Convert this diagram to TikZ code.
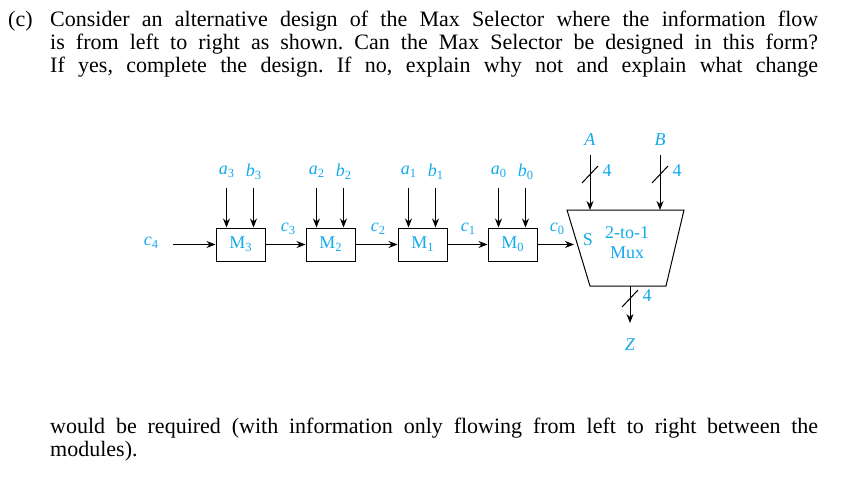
\documentclass[tikz,border=0pt]{standalone}
\usepackage{fontspec}
\setmainfont{Liberation Serif}
\usetikzlibrary{arrows.meta}
\definecolor{lbl}{RGB}{20,170,235}
\newcommand{\vsub}[2]{\textit{#1}\raisebox{-0.35ex}{\fontsize{12.5}{13}\selectfont #2}}
\newcommand{\msub}[2]{#1\raisebox{-0.35ex}{\fontsize{12.5}{13}\selectfont #2}}
\begin{document}
\frenchspacing
\begin{tikzpicture}[x=1pt,y=-1pt,
  txt/.style={anchor=base west,inner sep=0,font=\fontsize{22}{23}\selectfont},
  lab/.style={text=lbl,inner sep=0,font=\fontsize{18}{20}\selectfont},
  mbox/.style={draw,line width=1pt,minimum width=49pt,minimum height=33pt,inner sep=0,text=lbl,font=\fontsize{18}{20}\selectfont},
  wire/.style={line width=1pt,-{Stealth[length=9pt,width=7pt]}},
  ln/.style={line width=1pt}]
\useasboundingbox (0,0) rectangle (844,477);
\node[txt] (t0) at (8,26) {(c)};
\node[txt] (t1) at (50,26) {\makebox[768pt][s]{Consider an alternative design of the Max Selector where the information flow}};
\node[txt] (t2) at (50,49) {\makebox[768pt][s]{is from left to right as shown. Can the Max Selector be designed in this form?}};
\node[txt] (t3) at (50,72) {\makebox[768pt][s]{If yes, complete the design. If no, explain why not and explain what change}};
\node[txt] (t4) at (50,433) {\makebox[768pt][s]{would be required (with information only flowing from left to right between the}};
\node[txt] (t5) at (50,456) {modules).};
% modules
\foreach \n/\x in {3/240.5,2/330.5,1/422.5,0/512.5}{
  \node[mbox] (M\n) at (\x,244.5) {\msub{M}{\n}};
  \node[lab] (a\n) at (\x-14,172) {\vsub{a}{\n}};
  \node[lab] (b\n) at (\x+13,172) {\vsub{b}{\n}};
  \coordinate (pa\n) at (\x-14,188);
  \coordinate (pb\n) at (\x+13,188);
  \draw[wire] (pa\n) -- (pa\n |- M\n.north);
  \draw[wire] (pb\n) -- (pb\n |- M\n.north);
}
\node[lab] (c4) at (151,243) {\vsub{c}{4}};
\coordinate (c4s) at (173,244.5);
\draw[wire] (c4s) -- (M3.west);
\draw[wire] (M3) -- (M2); \node[lab] at (288,229) {\vsub{c}{3}};
\draw[wire] (M2) -- (M1); \node[lab] at (378,229) {\vsub{c}{2}};
\draw[wire] (M1) -- (M0); \node[lab] at (468,229) {\vsub{c}{1}};
% mux
\coordinate (tl) at (567,210); \coordinate (tr) at (684,210);
\coordinate (br) at (666,286); \coordinate (bl) at (590,286);
\draw[ln] (tl) -- (tr) -- (br) -- (bl) -- cycle;
\coordinate (sin) at (574,244.5);
\draw[wire] (M0) -- (sin); \node[lab] at (557,229) {\vsub{c}{0}};
\node[lab] (S) at (588,240) {S};
\node[lab,align=center] (mx) at (627,243) {2-to-1\\Mux};
\node[lab] (A) at (590,140) {\textit{A}};
\node[lab] (B) at (660,140) {\textit{B}};
\coordinate (As) at (590,155); \coordinate (Bs) at (660,155);
\draw[wire] (As) -- (As |- tl);
\draw[wire] (Bs) -- (Bs |- tl);
\draw[ln] (582,183) -- (598,166); \node[lab] at (607,171) {4};
\draw[ln] (652,183) -- (668,166); \node[lab] at (677,171) {4};
\coordinate (zo) at (630,286); \coordinate (ze) at (630,323);
\draw[wire] (zo) -- (ze);
\draw[ln] (622,307) -- (638,290); \node[lab] at (647,296) {4};
\node[lab] (Z) at (630,345) {\textit{Z}};
\end{tikzpicture}
\end{document}
